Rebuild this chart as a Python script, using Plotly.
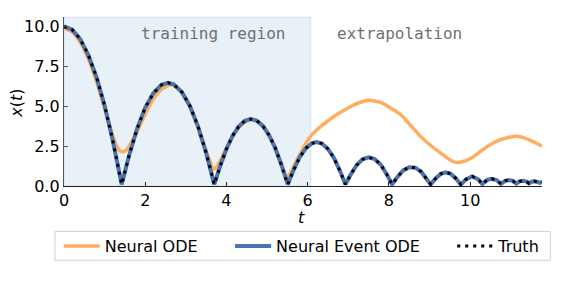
import plotly.graph_objects as go

# ---- data ----
truth_t = [0, 0.2, 0.4, 0.6, 0.8, 1.0, 1.2, 1.42,
           1.6, 1.8, 2.0, 2.2, 2.4, 2.56, 2.7, 2.9, 3.1, 3.3, 3.5, 3.70,
           3.85, 4.0, 4.15, 4.3, 4.45, 4.6, 4.75, 4.9, 5.05, 5.2, 5.35, 5.51,
           5.65, 5.8, 5.95, 6.1, 6.22, 6.35, 6.5, 6.65, 6.8, 6.93,
           7.05, 7.2, 7.35, 7.5, 7.65, 7.8, 7.95, 8.08,
           8.2, 8.35, 8.5, 8.65, 8.8, 8.93, 9.03,
           9.15, 9.28, 9.4, 9.52, 9.65, 9.77,
           9.9, 10.05, 10.2, 10.3,
           10.42, 10.53, 10.65, 10.76,
           10.86, 10.95, 11.05, 11.14,
           11.22, 11.3, 11.38, 11.45,
           11.52, 11.58, 11.65, 11.72, 11.77]
truth_x = [10.0, 9.8, 9.21, 8.21, 6.83, 5.04, 2.86, 0.1,
           1.88, 3.60, 4.91, 5.82, 6.34, 6.47, 6.37, 5.89, 5.02, 3.74, 2.07, 0.1,
           1.28, 2.32, 3.14, 3.72, 4.08, 4.2, 4.09, 3.75, 3.18, 2.39, 1.35, 0.1,
           0.98, 1.79, 2.35, 2.67, 2.75, 2.66, 2.32, 1.74, 0.92, 0.1,
           0.67, 1.29, 1.67, 1.8, 1.69, 1.33, 0.72, 0.1,
           0.53, 0.98, 1.18, 1.15, 0.88, 0.45, 0.1,
           0.47, 0.77, 0.86, 0.77, 0.47, 0.1,
           0.42, 0.6, 0.42, 0.12,
           0.38, 0.45, 0.37, 0.13,
           0.32, 0.38, 0.32, 0.15,
           0.29, 0.33, 0.29, 0.17,
           0.27, 0.3, 0.26, 0.2, 0.27]

# Neural Event ODE overlaps the truth in the picture
event_t = list(truth_t)
event_x = list(truth_x)

node_t = [0, 0.2, 0.4, 0.6, 0.8, 1.0, 1.15, 1.28, 1.37, 1.45, 1.53, 1.62,
          1.8, 2.0, 2.2, 2.4, 2.6, 2.75, 2.9, 3.1, 3.3, 3.5, 3.6, 3.68,
          3.76, 3.85, 4.0, 4.15, 4.3, 4.45, 4.6, 4.75, 4.9, 5.05, 5.2, 5.35,
          5.43, 5.49, 5.56, 5.65, 5.8, 5.95, 6.1, 6.31, 6.56, 6.8, 7.05, 7.3,
          7.5, 7.8, 8.0, 8.29, 8.5, 8.78, 9.0, 9.27, 9.52, 9.68, 9.85, 10.01,
          10.26, 10.5, 10.75, 11.0, 11.16, 11.35, 11.55, 11.77]
node_x = [9.9, 9.65, 9.0, 7.95, 6.55, 4.85, 3.55, 2.6, 2.22, 2.15, 2.25, 2.55,
          3.4, 4.5, 5.45, 6.05, 6.32, 6.25, 5.85, 4.95, 3.65, 2.2, 1.5, 1.05,
          1.2, 1.6, 2.35, 3.1, 3.65, 4.0, 4.18, 4.1, 3.75, 3.15, 2.35, 1.35,
          0.8, 0.55, 0.75, 1.2, 1.95, 2.65, 3.2, 3.7, 4.2, 4.6, 4.97, 5.25,
          5.37, 5.24, 4.95, 4.47, 3.9, 3.11, 2.6, 2.07, 1.61, 1.47, 1.55, 1.72,
          2.18, 2.6, 2.9, 3.07, 3.11, 3.0, 2.78, 2.5]

train_end = 6.08
x_ticks = [0, 2, 4, 6, 8, 10]
y_ticks = [0.0, 2.5, 5.0, 7.5, 10.0]
series_names = ["Neural ODE", "Neural Event ODE", "Truth"]
region_labels = ["training region", "extrapolation"]

FONT = "DejaVu Sans"
FS = 16
ORANGE = "#ffad5e"
BLUE = "#4c72b0"

fig = go.Figure()
fig.add_trace(go.Scatter(x=node_t, y=node_x, mode="lines", name=series_names[0], legend="legend",
                         line=dict(color=ORANGE, width=3.5, shape="spline", smoothing=0.6)))
fig.add_trace(go.Scatter(x=event_t, y=event_x, mode="lines", name=series_names[1], legend="legend2",
                         line=dict(color=BLUE, width=4)))
fig.add_trace(go.Scatter(x=truth_t, y=truth_x, mode="lines", name=series_names[2], legend="legend3",
                         line=dict(color="#000000", width=3, dash="3px,5px")))

fig.add_shape(type="rect", xref="x", yref="paper", x0=0, x1=train_end, y0=0, y1=1,
              fillcolor="rgba(31,119,180,0.1)", line=dict(color="rgba(31,119,180,0.12)", width=1),
              layer="below")

# legend frame
fig.add_shape(type="rect", xref="paper", yref="paper", x0=-0.0188, x1=1.0174, y0=-0.4395, y1=-0.2696,
              line=dict(color="#d0d0d0", width=1), fillcolor="white", layer="below")

fig.add_annotation(x=3.69, y=0.905, xref="x", yref="paper", xanchor="center", yanchor="middle",
                   text=region_labels[0], showarrow=False,
                   font=dict(family="DejaVu Sans Mono", size=FS, color="#707070"))
fig.add_annotation(x=8.25, y=0.905, xref="x", yref="paper", xanchor="center", yanchor="middle",
                   text=region_labels[1], showarrow=False,
                   font=dict(family="DejaVu Sans Mono", size=FS, color="#707070"))

# axis titles
fig.add_annotation(x=-0.0984, y=0.493, xref="paper", yref="paper", text="<i>x</i>(<i>t</i>)",
                   xanchor="center", yanchor="middle",
                   textangle=-90, showarrow=False, font=dict(family=FONT, size=FS, color="black"))
fig.add_annotation(x=0.4976, y=-0.186, xref="paper", yref="paper", text="<i>t</i>",
                   xanchor="center", yanchor="middle",
                   showarrow=False, font=dict(family=FONT, size=FS, color="black"))

leg_common = dict(orientation="h", y=-0.355, yanchor="middle", xanchor="left",
                  bgcolor="rgba(0,0,0,0)", borderwidth=0, itemwidth=36,
                  font=dict(family=FONT, size=FS, color="black"))

# page has an 8px body margin: figure is 16px smaller than the window
fig.update_layout(
    width=565, height=275,
    margin=dict(l=56, r=31.3, t=9, b=96.5),
    plot_bgcolor="white", paper_bgcolor="white",
    font=dict(family=FONT, size=FS, color="black"),
    showlegend=True,
    legend=dict(x=-0.0111, **leg_common),
    legend2=dict(x=0.3475, **leg_common),
    legend3=dict(x=0.8122, **leg_common),
    xaxis=dict(range=[0, 11.77], tickvals=x_ticks, ticks="inside", ticklen=4,
               tickcolor="#222", showgrid=False, zeroline=False, showline=True,
               linecolor="#222", linewidth=1.3),
    yaxis=dict(range=[0, 10.59], tickvals=y_ticks, tickformat=".1f", ticks="inside", ticklen=4,
               tickcolor="#555", showgrid=False, zeroline=False, showline=True,
               linecolor="#555", linewidth=1.3),
)

fig.write_html("out.html")
